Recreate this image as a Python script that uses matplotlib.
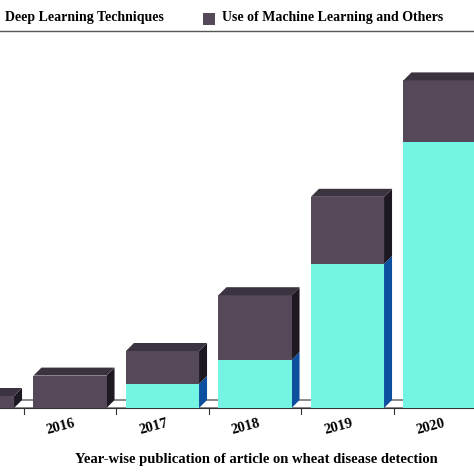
import matplotlib
matplotlib.use("Agg")
import matplotlib.pyplot as plt
from matplotlib.patches import Polygon, Rectangle

years = [2015, 2016, 2017, 2018, 2019, 2020]
deep_learning = [0, 0, 2.0, 4.0, 12.0, 22.2]
machine_learning = [1.0, 2.7, 2.75, 5.4, 5.6, 5.1]
tick_labels = ["", "2016", "2017", "2018", "2019", "2020"]

CYAN = "#74f4e2"; CYAN_SIDE = "#0c4f9e"
DARK = "#554858"; DARK_SIDE = "#1e1822"; DARK_TOP = "#3b3340"

fig = plt.figure(figsize=(4.74, 4.74), dpi=100)
ax = fig.add_axes([0, 66/474, 1, (408-31)/474])
k = 92.5
xmin = 2016 - 70/k
ax.set_xlim(xmin, xmin + 474/k)
ax.set_ylim(0, (408-31)/12)
ax.axis("off")

w = 0.79
dx, dy = 8/k, 8/12
ax.add_patch(Polygon([(xmin, 0), (xmin + 6, 0), (xmin + 6 + dx, dy), (xmin + dx, dy)],
                     closed=True, fc="white", ec="#333333", lw=0.8, zorder=1, clip_on=False))
for i, yr in enumerate(years):
    x0 = yr - w/2
    b = 0
    for val, fc, sc in [(deep_learning[i], CYAN, CYAN_SIDE), (machine_learning[i], DARK, DARK_SIDE)]:
        if val <= 0:
            continue
        ax.add_patch(Polygon([(x0 + w, b), (x0 + w + dx, b + dy), (x0 + w + dx, b + val + dy), (x0 + w, b + val)],
                             closed=True, fc=sc, ec="none", zorder=3))
        ax.add_patch(Rectangle((x0, b), w, val, fc=fc, ec="none", zorder=4))
        b += val
    ax.add_patch(Polygon([(x0, b), (x0 + dx, b + dy), (x0 + w + dx, b + dy), (x0 + w, b)],
                         closed=True, fc=DARK_TOP, ec="none", zorder=4))
    ax.plot([yr + 0.5, yr + 0.5], [0, -0.5], color="#333333", lw=0.8, clip_on=False)
    if tick_labels[i]:
        ax.text(yr - 0.1, -0.7, tick_labels[i], rotation=15, ha="center", va="top", fontsize=10.5,
                fontweight="bold", family="Liberation Serif", clip_on=False)
ax.plot([xmin, xmin + 6], [0, 0], color="#333333", lw=0.8, zorder=2, clip_on=False)

fig.text(0.54, 14/474, "Year-wise publication of article on wheat disease detection", ha="center",
         va="center", fontsize=10.5, fontweight="bold", family="Liberation Serif")
fig.text(164/474, 1 - 18/474, "Deep Learning Techniques", ha="right", va="center", fontsize=10,
         fontweight="bold", family="Liberation Serif")
fig.patches.append(Rectangle((203/474, 1 - 25/474), 12/474, 12/474, transform=fig.transFigure,
                             fc=DARK, ec="none"))
fig.text(222/474, 1 - 18/474, "Use of Machine Learning and Others", ha="left", va="center", fontsize=10,
         fontweight="bold", family="Liberation Serif")
fig.add_artist(plt.Line2D([0, 1], [1 - 31/474, 1 - 31/474], color="#555555", lw=1))
fig.savefig("out.png", dpi=100)
